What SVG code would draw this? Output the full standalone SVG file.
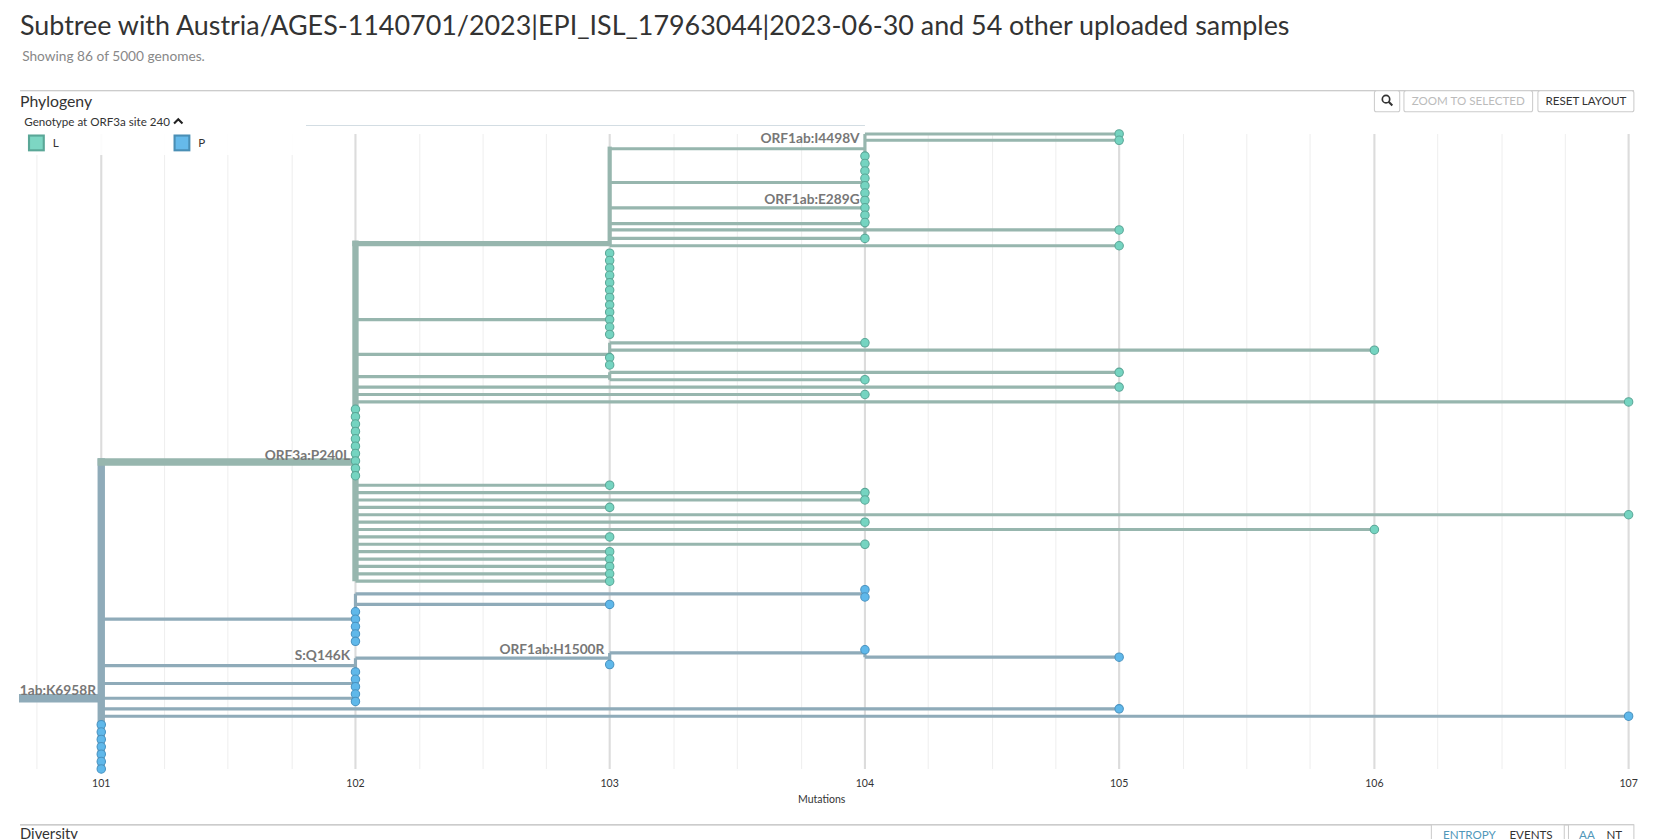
<svg xmlns="http://www.w3.org/2000/svg" width="1654" height="839" viewBox="0 0 1654 839">
<style>
text{font-family:Lato,"Liberation Sans",sans-serif}
.maj{stroke:#dcdcdc;stroke-width:2}
.min{stroke:#efefef;stroke-width:1}
.gb{stroke:#97b6ae;fill:none;stroke-width:3}
.bb{stroke:#8fabb9;fill:none;stroke-width:3}
.gt{fill:#75d4c1;stroke:#5aa797;stroke-width:1}
.bt{fill:#5fb8ea;stroke:#4a93c0;stroke-width:1}
.lab{font-size:13px;font-weight:bold;fill:#777;text-anchor:end}
.ax{font-size:10px;fill:#333;text-anchor:middle}
.btn{fill:#fff;stroke:#ccc;stroke-width:1}
</style>
<rect width="1654" height="839" fill="#fff"/>
<g transform="scale(1.0548)">
<g id="header">
<text x="19" y="33" font-size="25.5" fill="#333">Subtree with Austria/AGES-1140701/2023|EPI_ISL_17963044|2023-06-30 and 54 other uploaded samples</text>
<text x="21" y="58" font-size="13" fill="#888">Showing 86 of 5000 genomes.</text>
<line x1="19" y1="86" x2="1549" y2="86" stroke="#bbb"/>
<text x="19" y="101" font-size="15" fill="#333">Phylogeny</text>
<rect class="btn" x="1303" y="86" width="24" height="20" rx="2"/>
<circle cx="1314" cy="94" r="3.5" fill="none" stroke="#333" stroke-width="1.6"/>
<line x1="1316.5" y1="96.5" x2="1320" y2="100" stroke="#333" stroke-width="2"/>
<rect class="btn" x="1331" y="86" width="122" height="20" rx="2"/>
<text x="1392" y="100" font-size="11" fill="#bbb" text-anchor="middle">ZOOM TO SELECTED</text>
<rect class="btn" x="1458" y="86" width="91" height="20" rx="2"/>
<text x="1503.5" y="100" font-size="11" fill="#333" text-anchor="middle">RESET LAYOUT</text>
</g>
<g id="grid">
<path class="min" d="M35 127V729M156 127V729M216 127V729M277 127V729M398 127V729M458 127V729M518 127V729M639 127V729M699 127V729M760 127V729M880 127V729M941 127V729M1001 127V729M1122 127V729M1182 127V729M1242 127V729M1363 127V729M1424 127V729M1484 127V729"/>
<path class="maj" d="M96 127V729M337 127V729M578 127V729M820 127V729M1061 127V729M1303 127V729M1544 127V729"/>
</g>
<g id="legend">
<rect x="290" y="112" width="530" height="14" fill="#fff"/>
<line x1="290" y1="119" x2="820" y2="119" stroke="#d3dde3"/>
<rect x="20" y="107" width="270" height="40" fill="#fff" opacity="0.9"/>
<text x="23" y="119" font-size="11" fill="#333">Genotype at ORF3a site 240</text>
<path d="M165 117l4-4 4 4" fill="none" stroke="#222" stroke-width="2"/>
<rect x="27.5" y="128.5" width="14" height="14" fill="#7dd6c3" stroke="#5aa797" stroke-width="2"/>
<text x="50" y="139" font-size="11" fill="#333">L</text>
<rect x="165.5" y="128.5" width="14" height="14" fill="#66baea" stroke="#4a8fb5" stroke-width="2"/>
<text x="188" y="139" font-size="11" fill="#333">P</text>
</g>
<g id="connectors">
<path class="bb" style="stroke-width:8" d="M18 662H96"/>
<path class="bb" style="stroke-width:7" d="M96 434.5V729"/>
<path class="gb" style="stroke-width:7" d="M92.5 438H337"/>
<path class="gb" style="stroke-width:6" d="M337 228V551"/>
<path class="gb" style="stroke-width:5" d="M334 231H578"/>
<path class="gb" style="stroke-width:4" d="M578 139V233"/>
<path class="gb" d="M578 141H820M820 127V141M820 127H1061M820 133H1061M578 173H820M578 197H820M578 212H820M578 218H1061M578 226H820M578 233H1061M820 141V226"/>
<path class="gb" d="M578 240V317M337 303H578"/>
<path class="gb" d="M337 336H578M578 325V346M578 325H820M578 332H1303"/>
<path class="gb" d="M337 357H578M578 353V360M578 353H1061M578 360H820"/>
<path class="gb" d="M337 367H1061M337 374H820M337 381H1544"/>
<path class="gb" d="M337 460H578M337 467H820M337 474H820M337 481H578M337 488H1544M337 495H820M337 502H1303M337 509H578M337 516H820M337 523H578M337 530H578M337 537H578M337 544H578M337 551H578"/>
<path class="bb" d="M96 587H337M337 563V608M337 563H820M820 559V566M337 573H578"/>
<path class="bb" d="M96 631H337M337 624V665M337 624H578M578 619V630M578 619H820M820 616V623M820 623H1061M96 648H337M96 662H337M96 672H1061M96 679H1544"/>
</g>
<g id="labels">
<text class="lab" x="815" y="136">ORF1ab:I4498V</text>
<text class="lab" x="815" y="193">ORF1ab:E289G</text>
<text class="lab" x="332" y="436">ORF3a:P240L</text>
<text class="lab" x="332" y="626">S:Q146K</text>
<text class="lab" x="573" y="620">ORF1ab:H1500R</text>
<text class="lab" x="91" y="659">1ab:K6958R</text>
</g>
<g id="tips-L">
<circle class="gt" cx="1061" cy="127" r="4"/><circle class="gt" cx="1061" cy="133" r="4"/>
<circle class="gt" cx="820" cy="148" r="4"/><circle class="gt" cx="820" cy="155" r="4"/><circle class="gt" cx="820" cy="162" r="4"/><circle class="gt" cx="820" cy="169" r="4"/><circle class="gt" cx="820" cy="176" r="4"/><circle class="gt" cx="820" cy="183" r="4"/><circle class="gt" cx="820" cy="190" r="4"/><circle class="gt" cx="820" cy="197" r="4"/><circle class="gt" cx="820" cy="204" r="4"/><circle class="gt" cx="820" cy="211" r="4"/><circle class="gt" cx="820" cy="226" r="4"/>
<circle class="gt" cx="1061" cy="218" r="4"/><circle class="gt" cx="1061" cy="233" r="4"/>
<circle class="gt" cx="578" cy="240" r="4"/><circle class="gt" cx="578" cy="247" r="4"/><circle class="gt" cx="578" cy="254" r="4"/><circle class="gt" cx="578" cy="261" r="4"/><circle class="gt" cx="578" cy="268" r="4"/><circle class="gt" cx="578" cy="275" r="4"/><circle class="gt" cx="578" cy="282" r="4"/><circle class="gt" cx="578" cy="289" r="4"/><circle class="gt" cx="578" cy="296" r="4"/><circle class="gt" cx="578" cy="303" r="4"/><circle class="gt" cx="578" cy="310" r="4"/><circle class="gt" cx="578" cy="317" r="4"/>
<circle class="gt" cx="820" cy="325" r="4"/><circle class="gt" cx="1303" cy="332" r="4"/><circle class="gt" cx="578" cy="339" r="4"/><circle class="gt" cx="578" cy="346" r="4"/>
<circle class="gt" cx="1061" cy="353" r="4"/><circle class="gt" cx="820" cy="360" r="4"/><circle class="gt" cx="1061" cy="367" r="4"/><circle class="gt" cx="820" cy="374" r="4"/><circle class="gt" cx="1544" cy="381" r="4"/>
<circle class="gt" cx="337" cy="388" r="4"/><circle class="gt" cx="337" cy="395" r="4"/><circle class="gt" cx="337" cy="402" r="4"/><circle class="gt" cx="337" cy="409" r="4"/><circle class="gt" cx="337" cy="416" r="4"/><circle class="gt" cx="337" cy="423" r="4"/><circle class="gt" cx="337" cy="430" r="4"/><circle class="gt" cx="337" cy="437" r="4"/><circle class="gt" cx="337" cy="444" r="4"/><circle class="gt" cx="337" cy="451" r="4"/>
<circle class="gt" cx="578" cy="460" r="4"/><circle class="gt" cx="820" cy="467" r="4"/><circle class="gt" cx="820" cy="474" r="4"/><circle class="gt" cx="578" cy="481" r="4"/><circle class="gt" cx="1544" cy="488" r="4"/><circle class="gt" cx="820" cy="495" r="4"/><circle class="gt" cx="1303" cy="502" r="4"/><circle class="gt" cx="578" cy="509" r="4"/><circle class="gt" cx="820" cy="516" r="4"/><circle class="gt" cx="578" cy="523" r="4"/><circle class="gt" cx="578" cy="530" r="4"/><circle class="gt" cx="578" cy="537" r="4"/><circle class="gt" cx="578" cy="544" r="4"/><circle class="gt" cx="578" cy="551" r="4"/>
</g>
<g id="tips-P">
<circle class="bt" cx="820" cy="559" r="4"/><circle class="bt" cx="820" cy="566" r="4"/><circle class="bt" cx="578" cy="573" r="4"/>
<circle class="bt" cx="337" cy="580" r="4"/><circle class="bt" cx="337" cy="587" r="4"/><circle class="bt" cx="337" cy="594" r="4"/><circle class="bt" cx="337" cy="601" r="4"/><circle class="bt" cx="337" cy="608" r="4"/>
<circle class="bt" cx="820" cy="616" r="4"/><circle class="bt" cx="1061" cy="623" r="4"/><circle class="bt" cx="578" cy="630" r="4"/>
<circle class="bt" cx="337" cy="637" r="4"/><circle class="bt" cx="337" cy="644" r="4"/><circle class="bt" cx="337" cy="651" r="4"/><circle class="bt" cx="337" cy="658" r="4"/><circle class="bt" cx="337" cy="665" r="4"/>
<circle class="bt" cx="1061" cy="672" r="4"/><circle class="bt" cx="1544" cy="679" r="4"/>
<circle class="bt" cx="96" cy="687" r="4"/><circle class="bt" cx="96" cy="694" r="4"/><circle class="bt" cx="96" cy="701" r="4"/><circle class="bt" cx="96" cy="708" r="4"/><circle class="bt" cx="96" cy="715" r="4"/><circle class="bt" cx="96" cy="722" r="4"/><circle class="bt" cx="96" cy="729" r="4"/>
</g>
<g id="axis">
<text class="ax" x="96" y="746">101</text><text class="ax" x="337" y="746">102</text><text class="ax" x="578" y="746">103</text><text class="ax" x="820" y="746">104</text><text class="ax" x="1061" y="746">105</text><text class="ax" x="1303" y="746">106</text><text class="ax" x="1544" y="746">107</text>
<text class="ax" x="779" y="761" font-size="9">Mutations</text>
</g>
<g id="footer">
<line x1="19" y1="782" x2="1549" y2="782" stroke="#bbb"/>
<text x="19" y="795" font-size="14" fill="#333">Diversity</text>
<rect class="btn" x="1357" y="782" width="126" height="20"/>
<text x="1368" y="795" font-size="11" fill="#5097ba">ENTROPY</text>
<text x="1431" y="795" font-size="11" fill="#333">EVENTS</text>
<rect class="btn" x="1487" y="782" width="62" height="20"/>
<text x="1497" y="795" font-size="11" fill="#5097ba">AA</text>
<text x="1523" y="795" font-size="11" fill="#333">NT</text>
</g>
</g>
</svg>
